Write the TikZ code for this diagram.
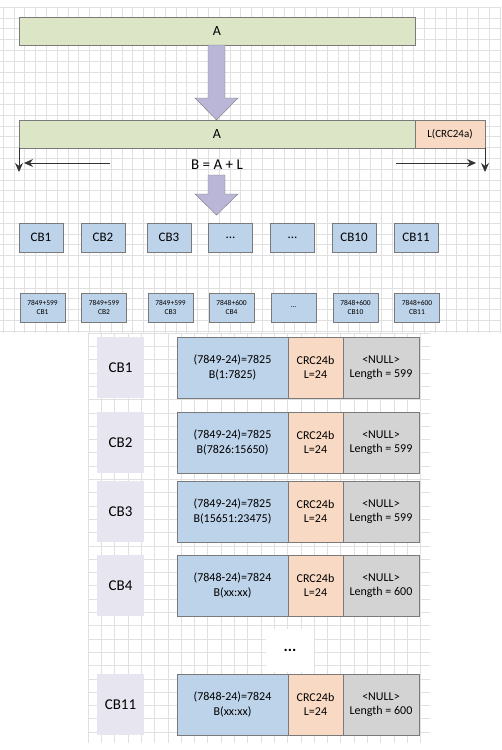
\documentclass[tikz,border=0pt]{standalone}
\usepackage{fontspec}
\setmainfont{Carlito}
\usetikzlibrary{arrows.meta,positioning,calc}
\definecolor{gridgray}{HTML}{E0E0E0}
\definecolor{bargreen}{HTML}{DCE5C6}
\definecolor{crcpeach}{HTML}{F8D9C3}
\definecolor{arrowlilac}{HTML}{B9B6D8}
\definecolor{cbblue}{HTML}{BDD3EA}
\definecolor{nullgray}{HTML}{D3D3D3}
\definecolor{lablilac}{HTML}{E7E5EF}
\definecolor{edgegray}{HTML}{7A7A7A}
\newcommand{\cbdots}{...}
\tikzset{
  gridline/.style={draw=gridgray, line width=0.6pt},
  bar/.style={draw=edgegray, fill=bargreen, minimum height=28, inner sep=0, outer sep=0, font=\fontsize{14}{16}\selectfont},
  crcbox/.style={draw=edgegray, fill=crcpeach, minimum height=28, minimum width=70, inner sep=0, outer sep=0, font=\fontsize{11}{13}\selectfont},
  bigarrow/.style={draw=edgegray, fill=arrowlilac},
  lenarrow/.style={draw=black!80, line width=0.9pt, -{Stealth[length=9pt,width=8pt]}},
  cbbox/.style={draw=edgegray, fill=cbblue, minimum width=44, minimum height=29, inner sep=0, font=\fontsize{13}{15}\selectfont},
  cbsmall/.style={cbbox, minimum width=45, align=center, font=\fontsize{7.5}{9}\selectfont},
  cblabel/.style={fill=lablilac, minimum width=47, minimum height=61, inner sep=0, font=\fontsize{15}{17}\selectfont},
  part/.style={draw=edgegray, minimum height=61, inner sep=0, outer sep=0, align=center, anchor=west, font=\fontsize{12}{14.5}\selectfont},
  datapart/.style={part, fill=cbblue, minimum width=111},
  crcpart/.style={part, fill=crcpeach, minimum width=55},
  nullpart/.style={part, fill=nullgray, minimum width=76}
}
\begin{document}
\begin{tikzpicture}[x=1pt, y=-1pt]
\useasboundingbox (0,0) rectangle (501,750);
% background grids
\foreach \i in {0,...,46}
  \draw[gridline] (3+10.8*\i,7) -- (3+10.8*\i,333);
\foreach \j in {0,...,30}
  \draw[gridline] (0,7+10.8*\j) -- (500,7+10.8*\j);
\foreach \i in {0,...,25}
  \draw[gridline] (88+13.3*\i,333) -- (88+13.3*\i,743);
\foreach \j in {0,...,30}
  \draw[gridline] (88,333+13.3*\j) -- (430,333+13.3*\j);
% input block and block with CRC attached
\node[bar, minimum width=396] (A1) at (217,31) {A};
\node[bar, minimum width=396] (A2) at (217,134) {A};
\node[crcbox, anchor=west] (L) at (A2.east) {L(CRC24a)};
\draw[bigarrow] (208,45) -- (225,45) -- (225,98) -- (238,98) -- (216.5,120) -- (195,98) -- (208,98) -- cycle;
% length of B
\coordinate (bl) at ($(A2.south west)+(0,24)$);
\coordinate (br) at ($(L.south east)+(0,24)$);
\draw[lenarrow] (A2.south west) -- (bl);
\draw[lenarrow] (L.south east) -- (br);
\node[font=\fontsize{15}{17}\selectfont] (B) at (217,165) {B = A + L};
\coordinate (ll) at (110,163);
\coordinate (lr) at (396,163);
\draw[lenarrow] (ll) -- (24,163);
\draw[lenarrow] (lr) -- (476,163);
\draw[bigarrow] (208,175) -- (225,175) -- (225,194) -- (238,194) -- (216.5,215) -- (195,194) -- (208,194) -- cycle;
% code block segmentation
\foreach \x/\n/\t in {41/1/CB1, 103/2/CB2, 169/3/CB3, 230.5/4/\cbdots, 292.5/5/\cbdots, 354/6/CB10, 416/7/CB11}
  \node[cbbox] (cb\n) at (\x,237.5) {\t};
\foreach \x/\n/\t in {42.5/1/7849+599\\CB1, 104/2/7849+599\\CB2, 170.5/3/7849+599\\CB3, 231.5/4/7848+600\\CB4, 293.5/5/\cbdots, 355.5/6/7848+600\\CB10, 417/7/7848+600\\CB11}
  \node[cbsmall] (cs\n) at (\x,307.5) {\t};
% detailed code blocks
\foreach \y/\n/\k/\r/\len in {367.5/1/7849-24)=7825/B(1:7825)/599, 442.5/2/7849-24)=7825/B(7826:15650)/599, 511.5/3/7849-24)=7825/B(15651:23475)/599, 585.5/4/7848-24)=7824/B(xx:xx)/600, 704.5/11/7848-24)=7824/B(xx:xx)/600}{
  \node[cblabel] (lab\n) at (120.5,\y) {CB\n};
  \node[datapart] (dat\n) at (177,\y) {(\k\\\r};
  \node[crcpart] (crc\n) at (dat\n.east) {CRC24b\\L=24};
  \node[nullpart] (nul\n) at (crc\n.east) {<NULL>\\Length = \len};
}
\node[fill=white, minimum width=48, minimum height=43, font=\fontsize{16}{18}\selectfont\bfseries] (dots) at (290,650) {\cbdots};
\end{tikzpicture}
\end{document}
